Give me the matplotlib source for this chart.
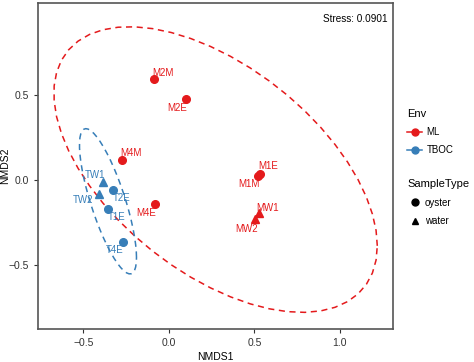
import numpy as np
import matplotlib
matplotlib.use("Agg")
import matplotlib.pyplot as plt
from matplotlib.lines import Line2D

plt.rcParams['font.family'] = ['Liberation Sans', 'DejaVu Sans']

# NMDS scores
names = ["M2M", "M2E", "M4M", "M1E", "M1M", "M4E", "MW1", "MW2",
         "TW1", "TW2", "T2E", "T1E", "T4E"]
nmds1 = [-0.088, 0.100, -0.275, 0.532, 0.520, -0.082, 0.526, 0.503,
         -0.386, -0.410, -0.327, -0.357, -0.270]
nmds2 = [0.590, 0.476, 0.118, 0.035, 0.025, -0.140, -0.195, -0.230,
         -0.010, -0.080, -0.060, -0.170, -0.365]
env = ["ML"] * 8 + ["TBOC"] * 5
stype = ["oyster"] * 6 + ["water"] * 2 + ["water"] * 2 + ["oyster"] * 3
stress = 0.0901

# label offsets (points) like ggrepel put them
lab_dx = [6.5, -6.5, 6.5, 6, -6.5, -6, 6, -6, -6, -11.5, 6.5, 6.5, -6]
lab_dy = [5, -6.5, 5, 6, -6, -6.5, 3.5, -7, 5, -5, -6, -6, -6]

colors = {"ML": "#E41A1C", "TBOC": "#377EB8"}
markers = {"oyster": "o", "water": "^"}
# qf(0.95, 2, n-1) for n = 8 and n = 5
fquant = {"ML": 4.737, "TBOC": 6.944}


def cov_trob(X, nu=5, maxit=25, tol=0.01):
    # port of MASS::cov.trob used by stat_ellipse(type="t")
    n, p = X.shape
    wt = np.ones(n)
    loc = X.mean(0)
    w = np.sqrt(wt)
    for it in range(maxit):
        w0 = w
        Xc = X - loc
        _, d, Vt = np.linalg.svd(np.sqrt(w / w.sum())[:, None] * Xc, full_matrices=False)
        wX = Xc @ Vt.T @ np.diag(1 / d)
        Q = (wX ** 2).sum(1)
        w = wt * (nu + p) / (nu + Q)
        loc = (w[:, None] * X).sum(0) / w.sum()
        if np.all(np.abs(w - w0) < tol):
            break
    sX = np.sqrt(w)[:, None] * Xc
    return loc, sX.T @ sX / wt.sum()


fig = plt.figure(figsize=(4.74, 3.62), dpi=100)
ax = fig.add_axes([0.080, 0.091, 0.749, 0.901])

x = np.array(nmds1)
y = np.array(nmds2)
env_a = np.array(env)

for g in ["ML", "TBOC"]:
    m = env_a == g
    loc, cov = cov_trob(np.column_stack([x[m], y[m]]))
    L = np.linalg.cholesky(cov)
    t = np.linspace(0, 2 * np.pi, 52)
    circ = np.column_stack([np.cos(t), np.sin(t)])
    ell = loc + np.sqrt(2 * fquant[g]) * circ @ L.T
    ax.plot(ell[:, 0], ell[:, 1], color=colors[g], lw=1.1, ls=(0, (4, 3)))

for i in range(len(names)):
    c = colors[env[i]]
    ax.plot(x[i], y[i], marker=markers[stype[i]], color=c, ms=5.5, ls="none")
    ax.annotate(names[i], (x[i], y[i]), xytext=(lab_dx[i], lab_dy[i]),
                textcoords="offset points", ha="center", va="center",
                color=c, fontsize=7)

ax.text(0.985, 0.965, "Stress: %.4f" % stress, transform=ax.transAxes,
        ha="right", va="top", fontsize=7.2)

ax.set_xlim(-0.766, 1.31)
ax.set_ylim(-0.876, 1.04)
ax.set_xticks([-0.5, 0.0, 0.5, 1.0])
ax.set_yticks([-0.5, 0.0, 0.5])
ax.tick_params(labelsize=7.5, colors="#333333", length=3, width=0.8)
ax.set_xlabel("NMDS1", fontsize=7.5, labelpad=3)
ax.set_ylabel("NMDS2", fontsize=7.5)
ax.yaxis.set_label_coords(-0.079, 0.5)
for s in ax.spines.values():
    s.set_color("#555555")
    s.set_linewidth(1.2)

h_env = [Line2D([], [], color=colors[g], marker="o", ms=5, lw=1.1) for g in ["ML", "TBOC"]]
leg1 = fig.legend(h_env, ["ML", "TBOC"], title="Env", loc="upper left",
                  bbox_to_anchor=(0.851, 0.71), frameon=False, fontsize=7,
                  title_fontsize=8, handlelength=1.5, handletextpad=0.5,
                  labelspacing=0.85, borderaxespad=0)
leg1._legend_box.align = "left"
h_st = [Line2D([], [], color="black", marker=markers[s], ms=5, ls="none") for s in ["oyster", "water"]]
leg2 = fig.legend(h_st, ["oyster", "water"], title="SampleType", loc="upper left",
                  bbox_to_anchor=(0.851, 0.515), frameon=False, fontsize=7,
                  title_fontsize=8, handlelength=1.5, handletextpad=0.3,
                  labelspacing=0.85, borderaxespad=0)
leg2._legend_box.align = "left"

fig.savefig("out.png", dpi=100)
